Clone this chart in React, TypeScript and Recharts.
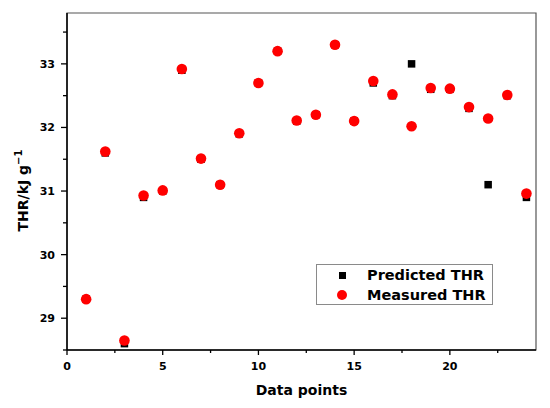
import { ScatterChart, Scatter, XAxis, YAxis, Legend, ReferenceArea, Label } from "recharts"

const points = [1, 2, 3, 4, 5, 6, 7, 8, 9, 10, 11, 12, 13, 14, 15, 16, 17, 18, 19, 20, 21, 22, 23, 24]
const predicted = [29.3, 31.6, 28.6, 30.9, 31.0, 32.9, 31.5, 31.1, 31.9, 32.7, 33.2, 32.1, 32.2, 33.3, 32.1, 32.7, 32.5, 33.0, 32.6, 32.6, 32.3, 31.1, 32.5, 30.9]
const measured = [29.3, 31.62, 28.65, 30.93, 31.01, 32.92, 31.51, 31.1, 31.91, 32.7, 33.2, 32.11, 32.2, 33.3, 32.1, 32.73, 32.52, 32.02, 32.62, 32.61, 32.32, 32.14, 32.51, 30.96]
const xTicks = [0, 2.5, 5, 7.5, 10, 12.5, 15, 17.5, 20, 22.5]
const yTicks = [28.5, 29, 29.5, 30, 30.5, 31, 31.5, 32, 32.5, 33, 33.5]
const seriesNames = ["Predicted THR", "Measured THR"]

const predictedData = points.map((x, i) => ({ x, y: predicted[i] }))
const measuredData = points.map((x, i) => ({ x, y: measured[i] }))

const FONT = "'DejaVu Sans', sans-serif"

const XTick = (props: any) => {
    const { x, y, payload } = props
    const major = payload.value % 5 === 0
    return (
        <g>
            <line x1={x} x2={x} y1={y} y2={y + (major ? 5 : 3)} stroke="#000" strokeWidth={1.3} />
            {major && (
                <text x={x} y={y + 19.5} textAnchor="middle" fontSize={11} fontWeight="bold" fontFamily={FONT} fill="#000">
                    {payload.value}
                </text>
            )}
        </g>
    )
}

const YTick = (props: any) => {
    const { x, y, payload } = props
    const major = Number.isInteger(payload.value)
    return (
        <g>
            <line x1={x - (major ? 6 : 4)} x2={x} y1={y} y2={y} stroke="#000" strokeWidth={1.3} />
            {major && (
                <text x={x - 12} y={y} dy="0.355em" textAnchor="end" fontSize={11} fontWeight="bold" fontFamily={FONT} fill="#000">
                    {payload.value}
                </text>
            )}
        </g>
    )
}

const YLabel = (props: any) => {
    const { x, y, height } = props.viewBox
    const cx = x + 20
    const cy = y + height / 2 + 9
    return (
        <text x={cx} y={cy} transform={`rotate(-90, ${cx}, ${cy})`} textAnchor="middle" fontSize={14} fontWeight="bold" fontFamily={FONT} fill="#000">
            THR/kJ g<tspan dy={-6} fontSize={10}>−1</tspan>
        </text>
    )
}

const XLabel = (props: any) => {
    const { x, y, width } = props.viewBox
    return (
        <text x={x + width / 2} y={y + 45} textAnchor="middle" fontSize={14} fontWeight="bold" fontFamily={FONT} fill="#000">
            Data points
        </text>
    )
}

const Square = (props: any) => <rect x={props.cx - 3.75} y={props.cy - 3.75} width={7.5} height={7.5} fill="#000" />
const Dot = (props: any) => <circle cx={props.cx} cy={props.cy} r={5.3} fill="#ff0000" />

const LegendBox = (props: any) => {
    const entries = [...(props.payload || [])].sort(
        (a: any, b: any) => seriesNames.indexOf(a.value) - seriesNames.indexOf(b.value)
    )
    return (
        <div style={{ boxSizing: "border-box", width: 177, height: 41, border: "1px solid #8a8a8a", background: "#fff", fontFamily: FONT }}>
            {entries.map((entry: any) => (
                <div key={entry.value} style={{ display: "flex", alignItems: "center", height: 20 }}>
                    <div style={{ width: 50, display: "flex", justifyContent: "center" }}>
                        {entry.value === seriesNames[0] ? (
                            <div style={{ width: 7, height: 7, background: "#000" }} />
                        ) : (
                            <div style={{ width: 10, height: 10, borderRadius: 5, background: "#ff0000" }} />
                        )}
                    </div>
                    <span style={{ fontSize: 14.5, fontWeight: "bold", color: "#000", lineHeight: "20px" }}>{entry.value}</span>
                </div>
            ))}
        </div>
    )
}

export default function App() {
    return (
        <div style={{ width: 542, height: 400, fontFamily: FONT }}>
            <ScatterChart width={542} height={400} margin={{ top: 5, right: 14, left: 0, bottom: 0 }}>
                <ReferenceArea x1={0} x2={24.5} y1={28.5} y2={33.8} fill="none" stroke="#555" strokeWidth={1.2} ifOverflow="visible" />
                <XAxis
                    type="number"
                    dataKey="x"
                    domain={[0, 24.5]}
                    ticks={xTicks}
                    interval={0}
                    tickSize={0}
                    tickMargin={0}
                    tick={<XTick />}
                    height={58}
                    stroke="#000"
                    strokeWidth={1.5}
                >
                    <Label content={<XLabel />} />
                </XAxis>
                <YAxis
                    type="number"
                    dataKey="y"
                    domain={[28.5, 33.8]}
                    ticks={yTicks}
                    interval={0}
                    tickSize={0}
                    tickMargin={0}
                    tick={<YTick />}
                    width={59}
                    stroke="#000"
                    strokeWidth={1.5}
                >
                    <Label content={<YLabel />} />
                </YAxis>
                <Legend
                    layout="vertical"
                    align="center"
                    verticalAlign="middle"
                    content={<LegendBox />}
                    wrapperStyle={{ left: 308, top: 256, width: 177, height: 41 }}
                />
                <Scatter name={seriesNames[0]} data={predictedData} fill="#000" shape={<Square />} isAnimationActive={false} />
                <Scatter name={seriesNames[1]} data={measuredData} fill="#ff0000" shape={<Dot />} isAnimationActive={false} />
            </ScatterChart>
        </div>
    )
}
